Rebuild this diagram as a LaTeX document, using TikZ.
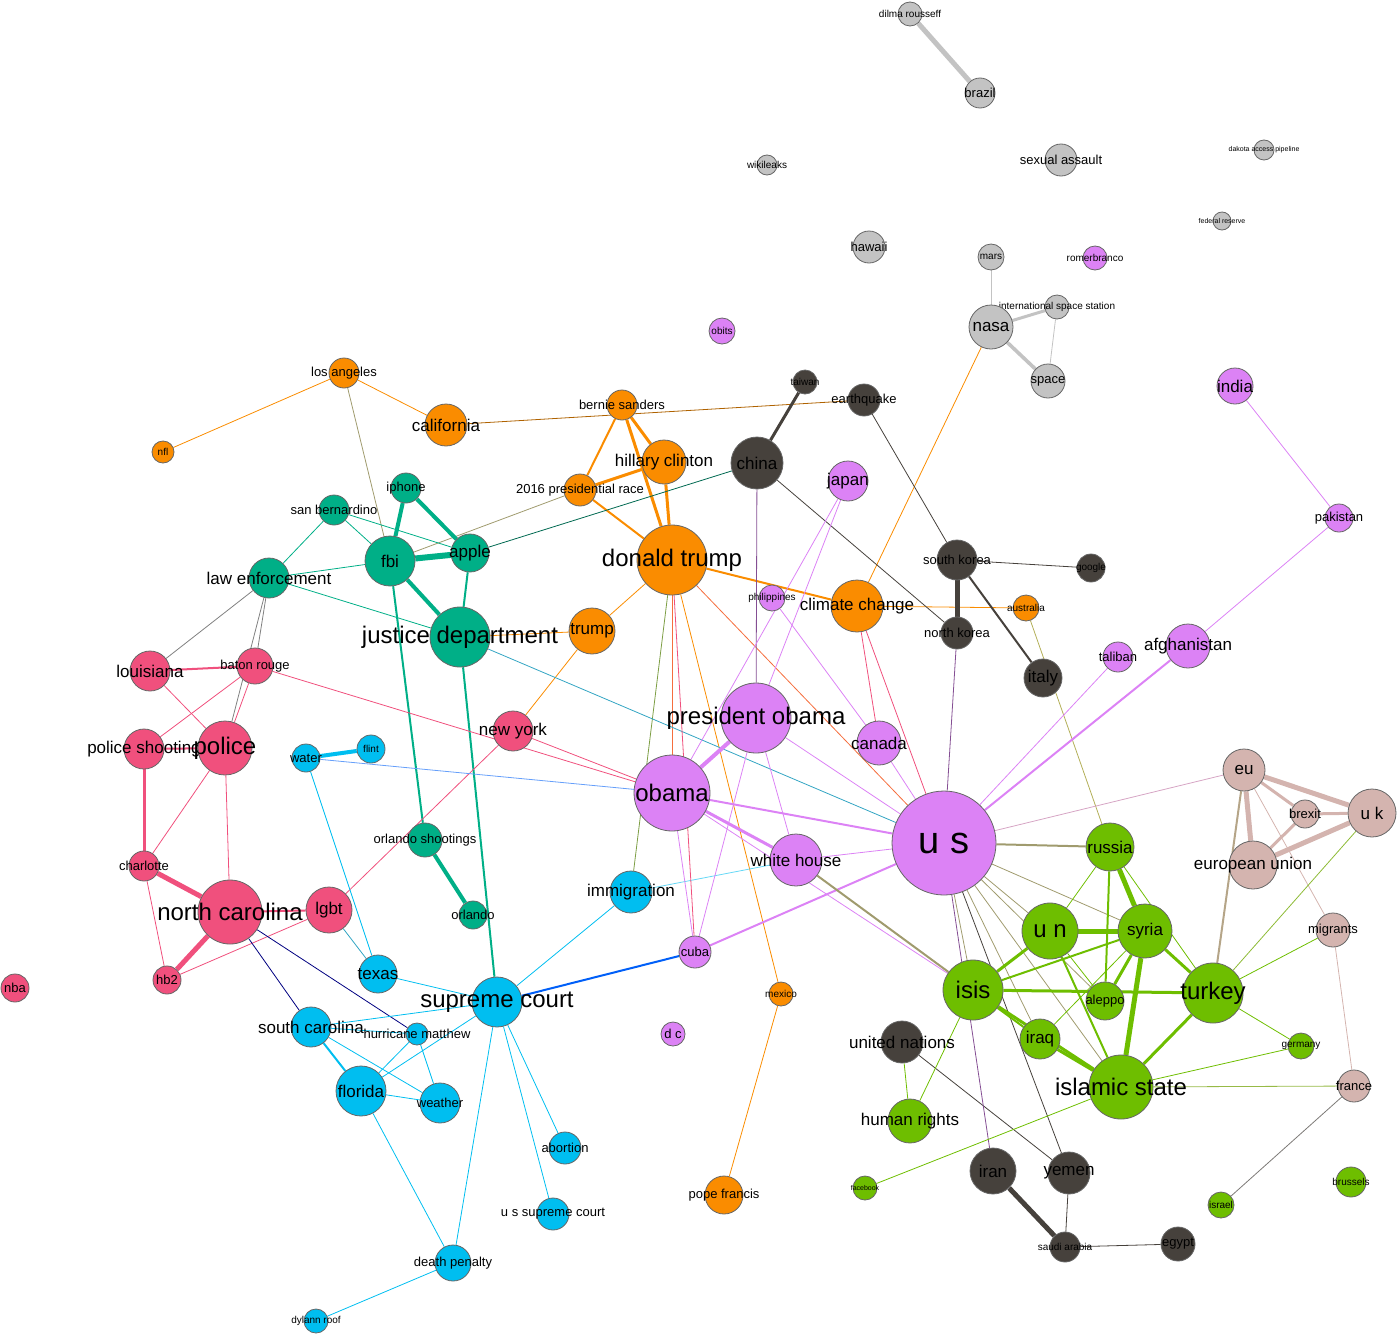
\documentclass[tikz,border=0pt]{standalone}
\usepackage{fontspec}
\setmainfont{Liberation Sans}
\usetikzlibrary{backgrounds}
\definecolor{cGy}{RGB}{195,195,195}
\definecolor{cOr}{RGB}{250,140,0}
\definecolor{cTl}{RGB}{0,175,135}
\definecolor{cPk}{RGB}{240,80,125}
\definecolor{cBl}{RGB}{0,190,240}
\definecolor{cVi}{RGB}{220,130,245}
\definecolor{cDk}{RGB}{70,65,60}
\definecolor{cGn}{RGB}{110,190,0}
\definecolor{cRo}{RGB}{212,180,175}
\definecolor{cOl}{RGB}{160,155,110}
\tikzset{every picture/.style={line width=0.4pt}}
\tikzset{v/.style={circle,draw=black!60,line width=0.4pt,inner sep=0pt}}
\newcommand\fA{\fontsize{19}{19}\selectfont}
\newcommand\fB{\fontsize{12}{12}\selectfont}
\newcommand\fC{\fontsize{8.5}{8.5}\selectfont}
\newcommand\fD{\fontsize{6.5}{6.5}\selectfont}
\newcommand\fE{\fontsize{5}{5}\selectfont}
\newcommand\fF{\fontsize{3.5}{3.5}\selectfont}
\begin{document}
\begin{tikzpicture}[x=0.5pt,y=0.5pt,yscale=-1,xscale=1]
\useasboundingbox (0,0) rectangle (1400,1338);

%gray nodes
\node[v,fill=cGy,minimum size=12pt,label={[font=\fE]center:dilma rousseff}] (dilma) at (910,14) {};
\node[v,fill=cGy,minimum size=15pt,label={[font=\fD]center:brazil}] (brazil) at (980,93) {};
\node[v,fill=cGy,minimum size=10pt,label={[font=\fE]center:wikileaks}] (wikileaks) at (767,165) {};
\node[v,fill=cGy,minimum size=16pt,label={[font=\fD]center:sexual assault}] (sexual) at (1061,160) {};
\node[v,fill=cGy,minimum size=10pt,label={[font=\fF]center:dakota access pipeline}] (dakota) at (1264,150) {};
\node[v,fill=cGy,minimum size=9pt,label={[font=\fF]center:federal reserve}] (fedres) at (1222,221) {};
\node[v,fill=cGy,minimum size=16pt,label={[font=\fD]center:hawaii}] (hawaii) at (869,247) {};
\node[v,fill=cGy,minimum size=13pt,label={[font=\fE]center:mars}] (mars) at (991,257) {};
\node[v,fill=cGy,minimum size=12pt,label={[font=\fE]center:international space station}] (iss) at (1057,307) {};
\node[v,fill=cGy,minimum size=22pt,label={[font=\fC]center:nasa}] (nasa) at (991,327) {};
\node[v,fill=cGy,minimum size=17pt,label={[font=\fD]center:space}] (space) at (1048,381) {};

%orange nodes
\node[v,fill=cOr,minimum size=15pt,label={[font=\fD]center:los angeles}] (losangeles) at (344,373) {};
\node[v,fill=cOr,minimum size=11pt,label={[font=\fE]center:nfl}] (nfl) at (163,452) {};
\node[v,fill=cOr,minimum size=21pt,label={[font=\fC]center:california}] (california) at (446,425) {};
\node[v,fill=cOr,minimum size=15pt,label={[font=\fD]center:bernie sanders}] (bernie) at (622,405) {};
\node[v,fill=cOr,minimum size=22pt,label={[font=\fC]center:hillary clinton}] (hillary) at (664,462) {};
\node[v,fill=cOr,minimum size=16pt,label={[font=\fD]center:2016 presidential race}] (race) at (580,490) {};
\node[v,fill=cOr,minimum size=35pt,label={[font=\fB]center:donald trump}] (dtrump) at (672,560) {};
\node[v,fill=cOr,minimum size=26pt,label={[font=\fC]center:climate change}] (climate) at (857,606) {};
\node[v,fill=cOr,minimum size=13pt,label={[font=\fE]center:australia}] (australia) at (1026,608) {};
\node[v,fill=cOr,minimum size=23pt,label={[font=\fC]center:trump}] (trump) at (592,631) {};
\node[v,fill=cOr,minimum size=12pt,label={[font=\fE]center:mexico}] (mexico) at (781,994) {};
\node[v,fill=cOr,minimum size=19pt,label={[font=\fD]center:pope francis}] (pope) at (724,1195) {};

%dark nodes
\node[v,fill=cDk,minimum size=12pt,label={[font=\fE]center:taiwan}] (taiwan) at (805,382) {};
\node[v,fill=cDk,minimum size=16pt,label={[font=\fD]center:earthquake}] (earthquake) at (864,400) {};
\node[v,fill=cDk,minimum size=26pt,label={[font=\fC]center:china}] (china) at (757,463) {};
\node[v,fill=cDk,minimum size=20pt,label={[font=\fD]center:south korea}] (skorea) at (957,560) {};
\node[v,fill=cDk,minimum size=14pt,label={[font=\fE]center:google}] (google) at (1091,568) {};
\node[v,fill=cDk,minimum size=16pt,label={[font=\fD]center:north korea}] (nkorea) at (957,633) {};
\node[v,fill=cDk,minimum size=19pt,label={[font=\fC]center:italy}] (italy) at (1043,678) {};
\node[v,fill=cDk,minimum size=21pt,label={[font=\fC]center:united nations}] (unations) at (902,1042) {};
\node[v,fill=cDk,minimum size=23pt,label={[font=\fC]center:iran}] (iran) at (993,1171) {};
\node[v,fill=cDk,minimum size=21pt,label={[font=\fC]center:yemen}] (yemen) at (1069,1173) {};
\node[v,fill=cDk,minimum size=15pt,label={[font=\fE]center:saudi arabia}] (saudi) at (1065,1247) {};
\node[v,fill=cDk,minimum size=17pt,label={[font=\fD]center:egypt}] (egypt) at (1178,1244) {};

%teal nodes
\node[v,fill=cTl,minimum size=15pt,label={[font=\fD]center:iphone}] (iphone) at (406,488) {};
\node[v,fill=cTl,minimum size=15pt,label={[font=\fD]center:san bernardino}] (sanbern) at (334,510) {};
\node[v,fill=cTl,minimum size=19pt,label={[font=\fC]center:apple}] (apple) at (470,553) {};
\node[v,fill=cTl,minimum size=25pt,label={[font=\fC]center:fbi}] (fbi) at (390,561) {};
\node[v,fill=cTl,minimum size=20pt,label={[font=\fC]center:law enforcement}] (lawenf) at (269,578) {};
\node[v,fill=cTl,minimum size=30pt,label={[font=\fB]center:justice department}] (justice) at (460,637) {};
\node[v,fill=cTl,minimum size=17pt,label={[font=\fD]center:orlando shootings}] (oshoot) at (425,840) {};
\node[v,fill=cTl,minimum size=14pt,label={[font=\fD]center:orlando}] (orlando) at (473,915) {};

%pink nodes
\node[v,fill=cPk,minimum size=20pt,label={[font=\fC]center:louisiana}] (louisiana) at (150,671) {};
\node[v,fill=cPk,minimum size=18pt,label={[font=\fD]center:baton rouge}] (baton) at (255,666) {};
\node[v,fill=cPk,minimum size=20pt,label={[font=\fC]center:new york}] (newyork) at (513,731) {};
\node[v,fill=cPk,minimum size=20pt,label={[font=\fC]center:police shooting}] (pshoot) at (144,749) {};
\node[v,fill=cPk,minimum size=27pt,label={[font=\fB]center:police}] (police) at (225,748) {};
\node[v,fill=cPk,minimum size=15pt,label={[font=\fD]center:charlotte}] (charlotte) at (144,866) {};
\node[v,fill=cPk,minimum size=32pt,label={[font=\fB]center:north carolina}] (ncarolina) at (230,912) {};
\node[v,fill=cPk,minimum size=23pt,label={[font=\fC]center:lgbt}] (lgbt) at (329,910) {};
\node[v,fill=cPk,minimum size=14pt,label={[font=\fD]center:nba}] (nba) at (15,988) {};
\node[v,fill=cPk,minimum size=14pt,label={[font=\fD]center:hb2}] (hb2) at (167,980) {};

%blue nodes
\node[v,fill=cBl,minimum size=14pt,label={[font=\fD]center:water}] (water) at (306,758) {};
\node[v,fill=cBl,minimum size=14pt,label={[font=\fE]center:flint}] (flint) at (371,749) {};
\node[v,fill=cBl,minimum size=21pt,label={[font=\fC]center:immigration}] (immig) at (631,892) {};
\node[v,fill=cBl,minimum size=19pt,label={[font=\fC]center:texas}] (texas) at (378,974) {};
\node[v,fill=cBl,minimum size=25pt,label={[font=\fB]center:supreme court}] (supreme) at (497,1002) {};
\node[v,fill=cBl,minimum size=20pt,label={[font=\fC]center:south carolina}] (scarolina) at (311,1027) {};
\node[v,fill=cBl,minimum size=11pt,label={[font=\fD]center:hurricane matthew}] (hurricane) at (417,1034) {};
\node[v,fill=cBl,minimum size=25pt,label={[font=\fC]center:florida}] (florida) at (361,1091) {};
\node[v,fill=cBl,minimum size=20pt,label={[font=\fD]center:weather}] (weather) at (440,1103) {};
\node[v,fill=cBl,minimum size=16pt,label={[font=\fD]center:abortion}] (abortion) at (565,1148) {};
\node[v,fill=cBl,minimum size=16pt,label={[font=\fD]center:u s supreme court}] (ussupreme) at (553,1214) {};
\node[v,fill=cBl,minimum size=18pt,label={[font=\fD]center:death penalty}] (death) at (453,1263) {};
\node[v,fill=cBl,minimum size=12pt,label={[font=\fE]center:dylann roof}] (dylann) at (316,1321) {};

%violet nodes
\node[v,fill=cVi,minimum size=12pt,label={[font=\fE]center:romerbranco}] (romero) at (1095,258) {};
\node[v,fill=cVi,minimum size=13pt,label={[font=\fE]center:obits}] (obits) at (722,331) {};
\node[v,fill=cVi,minimum size=18pt,label={[font=\fC]center:india}] (india) at (1235,386) {};
\node[v,fill=cVi,minimum size=14pt,label={[font=\fD]center:pakistan}] (pakistan) at (1339,518) {};
\node[v,fill=cVi,minimum size=20pt,label={[font=\fC]center:japan}] (japan) at (848,481) {};
\node[v,fill=cVi,minimum size=13pt,label={[font=\fE]center:philippines}] (phil) at (772,598) {};
\node[v,fill=cVi,minimum size=15pt,label={[font=\fD]center:taliban}] (taliban) at (1118,657) {};
\node[v,fill=cVi,minimum size=22pt,label={[font=\fC]center:afghanistan}] (afghan) at (1188,646) {};
\node[v,fill=cVi,minimum size=35pt,label={[font=\fB]center:president obama}] (pobama) at (756,718) {};
\node[v,fill=cVi,minimum size=22pt,label={[font=\fC]center:canada}] (canada) at (879,743) {};
\node[v,fill=cVi,minimum size=38pt,label={[font=\fB]center:obama}] (obama) at (672,793) {};
\node[v,fill=cVi,minimum size=52pt,label={[font=\fA]center:u s}] (us) at (944,843) {};
\node[v,fill=cVi,minimum size=26pt,label={[font=\fC]center:white house}] (whouse) at (796,860) {};
\node[v,fill=cVi,minimum size=16pt,label={[font=\fD]center:cuba}] (cuba) at (695,952) {};
\node[v,fill=cVi,minimum size=12pt,label={[font=\fD]center:d c}] (dc) at (673,1034) {};

%rose nodes
\node[v,fill=cRo,minimum size=21pt,label={[font=\fC]center:eu}] (eu) at (1244,770) {};
\node[v,fill=cRo,minimum size=14pt,label={[font=\fD]center:brexit}] (brexit) at (1305,814) {};
\node[v,fill=cRo,minimum size=24pt,label={[font=\fC]center:u k}] (uk) at (1372,813) {};
\node[v,fill=cRo,minimum size=24pt,label={[font=\fC]center:european union}] (europe) at (1253,865) {};
\node[v,fill=cRo,minimum size=17pt,label={[font=\fD]center:migrants}] (migrants) at (1333,930) {};
\node[v,fill=cRo,minimum size=16pt,label={[font=\fD]center:france}] (france) at (1354,1086) {};

%green nodes
\node[v,fill=cGn,minimum size=24pt,label={[font=\fC]center:russia}] (russia) at (1110,847) {};
\node[v,fill=cGn,minimum size=28pt,label={[font=\fB]center:u n}] (un) at (1050,931) {};
\node[v,fill=cGn,minimum size=27pt,label={[font=\fC]center:syria}] (syria) at (1145,931) {};
\node[v,fill=cGn,minimum size=30pt,label={[font=\fB]center:isis}] (isis) at (973,990) {};
\node[v,fill=cGn,minimum size=19pt,label={[font=\fD]center:aleppo}] (aleppo) at (1105,1001) {};
\node[v,fill=cGn,minimum size=30pt,label={[font=\fB]center:turkey}] (turkey) at (1213,993) {};
\node[v,fill=cGn,minimum size=20pt,label={[font=\fC]center:iraq}] (iraq) at (1040,1039) {};
\node[v,fill=cGn,minimum size=13pt,label={[font=\fE]center:germany}] (germany) at (1301,1046) {};
\node[v,fill=cGn,minimum size=32pt,label={[font=\fB]center:islamic state}] (istate) at (1121,1087) {};
\node[v,fill=cGn,minimum size=22pt,label={[font=\fC]center:human rights}] (hrights) at (910,1121) {};
\node[v,fill=cGn,minimum size=15pt,label={[font=\fE]center:brussels}] (brussels) at (1351,1182) {};
\node[v,fill=cGn,minimum size=12pt,label={[font=\fF]center:facebook}] (facebook) at (865,1188) {};
\node[v,fill=cGn,minimum size=13pt,label={[font=\fE]center:israel}] (israel) at (1221,1205) {};

\begin{scope}[on background layer]
%gray edges
\draw[cGy,line width=2.5pt] (dilma) -- (brazil);
\draw[cGy,line width=1.5pt] (nasa) -- (iss);
\draw[cGy,line width=1.8pt] (nasa) -- (space);
\draw[cGy] (nasa) -- (mars);
\draw[cGy] (iss) -- (space);
%orange edges
\draw[cOr] (losangeles) -- (nfl);
\draw[cOr] (losangeles) -- (california);
\draw[cOl] (losangeles) -- (fbi);
\draw[cOr!70!black] (california) -- (earthquake);
\draw[cOr,line width=1.5pt] (bernie) -- (hillary);
\draw[cOr,line width=1pt] (bernie) -- (race);
\draw[cOr,line width=1.5pt] (bernie) -- (dtrump);
\draw[cOr,line width=1.5pt] (race) -- (hillary);
\draw[cOr,line width=1.5pt] (hillary) -- (dtrump);
\draw[cOr,line width=1pt] (race) -- (dtrump);
\draw[cOl] (race) -- (fbi);
\draw[cOr,line width=1pt] (dtrump) -- (climate);
\draw[cOr] (dtrump) -- (trump);
\draw[cOr] (dtrump) -- (mexico);
\draw[cOr!50!cPk] (dtrump) -- (us);
\draw[cOr!50!cPk] (dtrump) -- (obama);
\draw[cTl!50!cOr] (dtrump) -- (immig);
\draw[cOr] (trump) -- (justice);
\draw[cOr] (trump) -- (newyork);
\draw[cOr] (climate) -- (australia);
\draw[cOr] (climate) -- (nasa);
\draw[cPk] (climate) -- (canada);
\draw[cPk] (climate) -- (us);
\draw[cOr] (mexico) -- (pope);
%dark edges
\draw[cDk,line width=1.5pt] (china) -- (taiwan);
\draw[cDk] (china) -- (nkorea);
\draw[cTl!60!black] (china) -- (apple);
\draw[cVi!60!black] (china) -- (pobama);
\draw[cDk] (earthquake) -- (skorea);
\draw[cDk,line width=1pt] (skorea) -- (italy);
\draw[cDk,line width=2.5pt] (skorea) -- (nkorea);
\draw[cDk] (skorea) -- (google);
\draw[cVi!60!black] (nkorea) -- (us);
\draw[cOl!80!yellow] (australia) -- (russia);
\draw[cDk,line width=2.5pt] (iran) -- (saudi);
\draw[cDk] (yemen) -- (saudi);
\draw[cDk] (saudi) -- (egypt);
\draw[cDk] (unations) -- (yemen);
%teal edges
\draw[cTl,line width=3pt] (fbi) -- (apple);
\draw[cTl,line width=2pt] (fbi) -- (iphone);
\draw[cTl,line width=2pt] (apple) -- (iphone);
\draw[cTl] (fbi) -- (sanbern);
\draw[cTl] (apple) -- (sanbern);
\draw[cTl,line width=2pt] (fbi) -- (justice);
\draw[cTl,line width=1pt] (apple) -- (justice);
\draw[cTl] (fbi) -- (lawenf);
\draw[cTl] (lawenf) -- (sanbern);
\draw[cTl] (lawenf) -- (justice);
\draw[cTl,line width=1pt] (fbi) -- (oshoot);
\draw[cTl,line width=1pt] (justice) -- (supreme);
\draw[cBl!60!gray] (justice) -- (us);
\draw[cTl,line width=2pt] (oshoot) -- (orlando);
\draw[gray] (lawenf) -- (louisiana);
\draw[gray] (lawenf) -- (baton);
\draw[gray] (lawenf) -- (police);
%pink edges
\draw[cPk,line width=1pt] (louisiana) -- (baton);
\draw[cPk] (louisiana) -- (police);
\draw[cPk] (baton) -- (pshoot);
\draw[cPk] (baton) -- (police);
\draw[cPk] (baton) -- (obama);
\draw[cPk,line width=1pt] (pshoot) -- (police);
\draw[cPk,line width=1.5pt] (pshoot) -- (charlotte);
\draw[cPk] (police) -- (charlotte);
\draw[cPk] (police) -- (ncarolina);
\draw[cPk,line width=2.5pt] (charlotte) -- (ncarolina);
\draw[cPk] (charlotte) -- (hb2);
\draw[cPk,line width=2.5pt] (ncarolina) -- (hb2);
\draw[cPk,line width=1pt] (ncarolina) -- (lgbt);
\draw[cPk] (hb2) -- (lgbt);
\draw[cPk] (lgbt) -- (newyork);
\draw[cPk] (newyork) -- (obama);
\draw[blue!50!black] (ncarolina) -- (scarolina);
\draw[blue!50!black] (ncarolina) -- (hurricane);
\draw[cBl!60!gray] (lgbt) -- (texas);
%blue edges
\draw[cBl,line width=2pt] (water) -- (flint);
\draw[cBl] (water) -- (texas);
\draw[cBl!50!blue!60] (water) -- (obama);
\draw[cBl] (immig) -- (supreme);
\draw[cBl!60] (immig) -- (whouse);
\draw[cBl] (supreme) -- (texas);
\draw[cBl!50!blue,line width=1pt] (supreme) -- (cuba);
\draw[cBl] (supreme) -- (scarolina);
\draw[cBl] (supreme) -- (abortion);
\draw[cBl] (supreme) -- (ussupreme);
\draw[cBl] (supreme) -- (death);
\draw[cBl] (supreme) -- (florida);
\draw[cBl,line width=1pt] (scarolina) -- (florida);
\draw[cBl] (scarolina) -- (weather);
\draw[cBl] (scarolina) -- (hurricane);
\draw[cBl] (florida) -- (hurricane);
\draw[cBl] (florida) -- (weather);
\draw[cBl] (hurricane) -- (weather);
\draw[cBl] (florida) -- (death);
\draw[cBl] (death) -- (dylann);
%violet edges
\draw[cVi,line width=2pt] (pobama) -- (obama);
\draw[cVi] (pobama) -- (us);
\draw[cVi] (pobama) -- (japan);
\draw[cVi] (pobama) -- (whouse);
\draw[cVi] (pobama) -- (cuba);
\draw[cVi] (phil) -- (canada);
\draw[cVi,line width=1pt] (obama) -- (us);
\draw[cVi,line width=1.5pt] (obama) -- (whouse);
\draw[cVi] (obama) -- (cuba);
\draw[cVi] (obama) -- (isis);
\draw[cVi,line width=1pt] (us) -- (afghan);
\draw[cVi] (us) -- (taliban);
\draw[cVi] (us) -- (whouse);
\draw[cVi] (us) -- (canada);
\draw[cVi,line width=1pt] (us) -- (cuba);
\draw[cVi] (afghan) -- (pakistan);
\draw[cVi] (india) -- (pakistan);
\draw[cVi] (japan) -- (obama);
\draw[cVi!60!black] (us) -- (iran);
\draw[cRo!70!cVi] (us) -- (eu);
\draw[cOl,line width=1pt] (us) -- (russia);
\draw[cOl] (us) -- (un);
\draw[cOl] (us) -- (syria);
\draw[cOl] (us) -- (isis);
\draw[cOl] (us) -- (iraq);
\draw[cOl] (us) -- (istate);
\draw[cOl] (us) -- (aleppo);
\draw[cDk] (us) -- (yemen);
\draw[cOl,line width=1pt] (whouse) -- (isis);
\draw[cPk] (cuba) -- (dtrump);
%rose edges
\draw[cRo,line width=2.5pt] (eu) -- (uk);
\draw[cRo,line width=1.5pt] (eu) -- (brexit);
\draw[cRo,line width=2.5pt] (eu) -- (europe);
\draw[cRo,line width=1.5pt] (brexit) -- (uk);
\draw[cRo,line width=1.5pt] (brexit) -- (europe);
\draw[cRo,line width=2.5pt] (uk) -- (europe);
\draw[cRo] (migrants) -- (france);
\draw[cRo] (migrants) -- (eu);
\draw[cOl!60!cRo,line width=1pt] (eu) -- (turkey);
\draw[cGn!70!cRo] (uk) -- (turkey);
\draw[cGn] (turkey) -- (migrants);
\draw[cDk!70] (france) -- (israel);
%green edges
\draw[cGn,line width=2.5pt] (un) -- (syria);
\draw[cGn,line width=1.5pt] (un) -- (isis);
\draw[cGn,line width=1pt] (un) -- (istate);
\draw[cGn] (un) -- (russia);
\draw[cGn] (un) -- (aleppo);
\draw[cGn,line width=2.5pt] (syria) -- (russia);
\draw[cGn,line width=1.5pt] (syria) -- (turkey);
\draw[cGn,line width=1pt] (syria) -- (isis);
\draw[cGn,line width=1.5pt] (syria) -- (aleppo);
\draw[cGn,line width=2.5pt] (syria) -- (istate);
\draw[cGn] (syria) -- (iraq);
\draw[cGn] (russia) -- (turkey);
\draw[cGn,line width=1pt] (russia) -- (aleppo);
\draw[cGn,line width=1.5pt] (isis) -- (turkey);
\draw[cGn,line width=1.5pt] (isis) -- (istate);
\draw[cGn,line width=1pt] (isis) -- (iraq);
\draw[cGn] (isis) -- (hrights);
\draw[cGn,line width=1.5pt] (turkey) -- (istate);
\draw[cGn] (turkey) -- (germany);
\draw[cGn] (istate) -- (germany);
\draw[cGn!60!cRo] (istate) -- (france);
\draw[cGn,line width=1.5pt] (iraq) -- (istate);
\draw[cGn] (istate) -- (facebook);
\draw[cGn] (unations) -- (hrights);
\end{scope}
\end{tikzpicture}
\end{document}
